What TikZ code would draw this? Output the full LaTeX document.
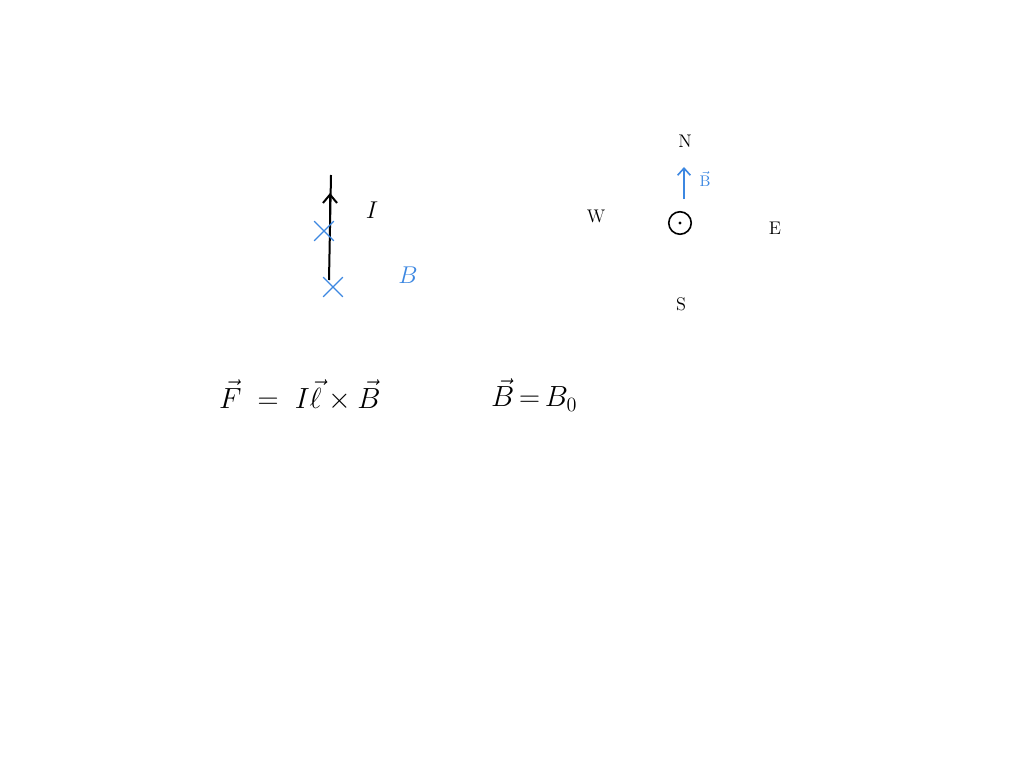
\documentclass[tikz,border=0pt]{standalone}
\usepackage{amsmath,amssymb}
\usepackage{tikz}
\usetikzlibrary{arrows.meta,calc,shapes.misc}
\definecolor{penblue}{RGB}{60,135,225}

\begin{document}
\begin{tikzpicture}[x=0.025cm, y=-0.025cm, line width=0.5mm]
  \useasboundingbox (0,0) rectangle (1024,768);
  \tikzset{
    lbl/.style={inner sep=0pt, font=\fontsize{13}{15}\selectfont},
    blulbl/.style={lbl, text=penblue},
    eqn/.style={inner sep=0pt, font=\fontsize{21}{25}\selectfont},
    cross/.style={cross out, draw=penblue, line width=0.35mm, minimum size=13pt, inner sep=0pt}
  }
  % Wire carrying current I, open chevron near the top
  \coordinate (wtop) at (331,175);
  \coordinate (wbot) at (329,280);
  \draw (wbot) -- (wtop);
  \draw[-{Straight Barb[length=6pt,width=10pt]}] (330,215) -- (330,193);
  \node[lbl, font=\fontsize{18}{20}\selectfont] (curI) at (372,210) {$I$};
  % Field into the page, marked with crosses
  \node[cross] (x1) at (324,231) {};
  \node[cross] (x2) at (333,287) {};
  \node[blulbl, font=\fontsize{18}{20}\selectfont] (fieldB) at (408,275) {$B$};
  % Compass: points and field arrow
  \node[lbl] (north) at (685,141) {N};
  \node[lbl] (west) at (596,216) {W};
  \node[lbl] (east) at (775,228) {E};
  \node[lbl] (south) at (681,304) {S};
  \node[draw, circle, minimum size=16pt, inner sep=0pt, line width=0.4mm] (odot) at (680,223) {};
  \fill (odot.center) circle (1.2pt);
  \coordinate (btail) at (684,199);
  \coordinate (bhead) at (684,167);
  \draw[penblue, line width=0.4mm, -{Straight Barb[length=5pt,width=9pt]}] (btail) -- (bhead);
  \node[blulbl, font=\fontsize{11}{13}\selectfont] (bvec) at (705,179) {$\vec{\mathrm{B}}$};
  % Force law and field value
  \node[eqn, anchor=west] (force) at (218,395) {$\vec F \;=\; I\vec\ell\times\vec B$};
  \node[eqn, anchor=west] (bval) at (490,395) {$\vec B{\,=\,}B_0$};
\end{tikzpicture}
\end{document}
